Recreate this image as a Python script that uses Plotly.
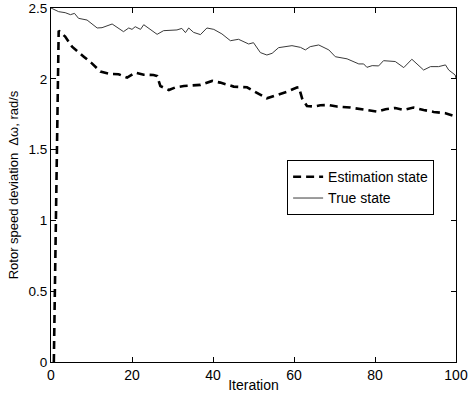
import plotly.graph_objects as go

# True state (solid thin line)
true_iter = [0, 1.9, 3.5, 4.8, 5.8, 6.8, 8.9, 11.4, 12.6, 15.1, 17.9, 19.2, 20.0, 20.8, 22.1, 22.9,
             26.2, 27.8, 31.1, 32.3, 33.2, 34.0, 35.2, 36.9, 38.5, 40.2, 42.2, 44.3, 46.3, 47.6,
             48.8, 50.0, 51.7, 53.3, 54.6, 56.2, 58.3, 59.5, 61.6, 62.8, 64.0, 66.1, 68.6, 70.2,
             73.1, 74.7, 76.0, 77.2, 78.0, 79.3, 80.9, 82.1, 83.8, 85.0, 87.1, 89.1, 92.0, 93.7,
             95.7, 97.4, 98.2, 99.8, 100]
true_val = [2.5, 2.474, 2.467, 2.453, 2.462, 2.427, 2.415, 2.359, 2.361, 2.387, 2.333, 2.359, 2.349,
            2.368, 2.349, 2.382, 2.314, 2.340, 2.345, 2.356, 2.326, 2.359, 2.328, 2.312, 2.359,
            2.349, 2.317, 2.269, 2.279, 2.262, 2.246, 2.255, 2.185, 2.168, 2.180, 2.220, 2.227,
            2.234, 2.222, 2.204, 2.227, 2.239, 2.204, 2.156, 2.141, 2.122, 2.105, 2.105, 2.081,
            2.093, 2.091, 2.128, 2.122, 2.122, 2.079, 2.138, 2.062, 2.086, 2.086, 2.098, 2.062,
            2.027, 2.001]

# Estimation state (thick dashed line)
est_iter = [0.7, 1.9, 3.5, 5.2, 8.1, 10.1, 12.2, 14.7, 16.7, 18.8, 20.8, 22.9, 25.3, 26.2, 27.0,
            29.1, 30.7, 32.8, 36.9, 39.8, 41.8, 45.1, 48.4, 50.9, 53.3, 55.8, 58.3, 60.7, 61.2,
            62.0, 63.2, 64.9, 66.5, 68.6, 70.6, 73.9, 77.2, 80.5, 82.6, 85.0, 87.1, 89.5, 92.0,
            94.5, 97.4, 100]
est_val = [0.0, 2.340, 2.298, 2.227, 2.156, 2.109, 2.051, 2.034, 2.032, 2.008, 2.044, 2.029, 2.027,
           2.020, 1.949, 1.921, 1.939, 1.949, 1.957, 1.985, 1.973, 1.945, 1.940, 1.902, 1.862,
           1.886, 1.909, 1.938, 1.940, 1.862, 1.808, 1.804, 1.813, 1.815, 1.804, 1.797, 1.785,
           1.768, 1.785, 1.794, 1.780, 1.797, 1.780, 1.766, 1.757, 1.733]

x_ticks = [0, 20, 40, 60, 80, 100]
y_ticks = [0, 0.5, 1, 1.5, 2, 2.5]
y_tick_text = ["0", "0.5", "1", "1.5", "2", "2.5"]

fig = go.Figure()
fig.add_trace(go.Scatter(x=est_iter, y=est_val, mode="lines", name="Estimation state",
                         line=dict(color="black", width=2.6, dash="8px,5px")))
fig.add_trace(go.Scatter(x=true_iter, y=true_val, mode="lines", name="True state",
                         line=dict(color="#3a3a3a", width=1)))

axis_common = dict(showline=True, linecolor="black", linewidth=1, mirror="ticks",
                   ticks="inside", ticklen=5, tickcolor="black", showgrid=False, zeroline=False,
                   automargin=False, ticklabeloverflow="allow")

fig.update_layout(
    width=474, height=393,
    margin=dict(l=51, r=18, t=8, b=31, autoexpand=False),
    paper_bgcolor="white", plot_bgcolor="white",
    font=dict(family="Liberation Sans, Arial", color="black"),
    showlegend=True,
    legend=dict(x=0.583, y=0.57, xanchor="left", yanchor="top",
                bordercolor="black", borderwidth=1, bgcolor="white",
                font=dict(size=14, color="black"), tracegroupgap=0),
    xaxis=dict(range=[0, 100], tickvals=x_ticks,
               tickfont=dict(family="Liberation Sans, Arial", size=14, color="black"),
               title=dict(text="Iteration", font=dict(size=14), standoff=0), **axis_common),
    yaxis=dict(range=[0, 2.5], tickvals=y_ticks, ticktext=y_tick_text,
               tickfont=dict(family="Liberation Sans, Arial", size=13.5, color="black"),
               title=dict(text="Rotor speed deviation  Δω, rad/s", font=dict(size=13), standoff=6),
               **axis_common),
)

fig.write_html("out.html", config={"displayModeBar": False},
               post_script="document.body.style.margin='0px';")
